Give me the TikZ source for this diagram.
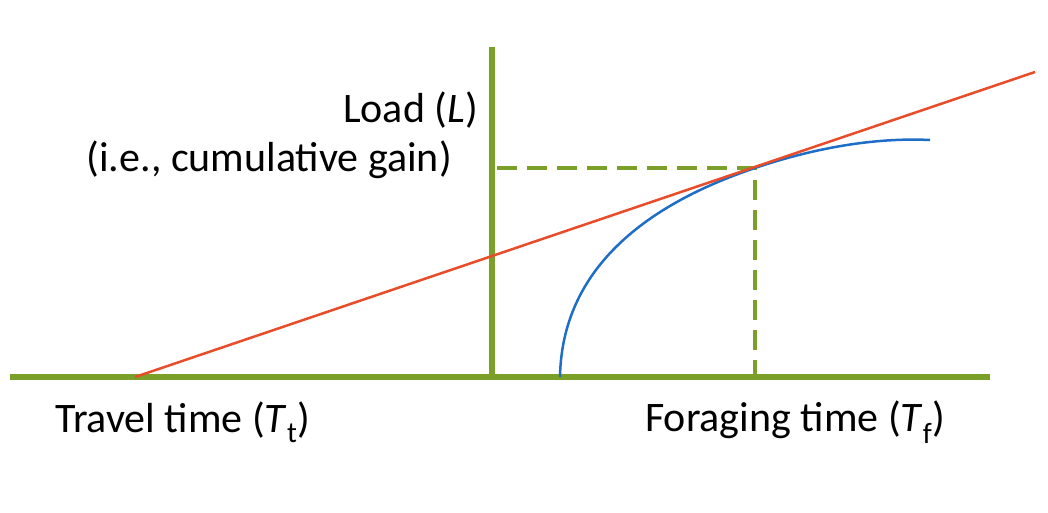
\documentclass[tikz,border=0pt]{standalone}
\usepackage{fontspec}
\setmainfont{Carlito}
\definecolor{axgreen}{RGB}{122,160,42}
\definecolor{tred}{RGB}{232,76,40}
\definecolor{cblue}{RGB}{30,110,200}
\begin{document}
\begin{tikzpicture}[x=1pt,y=-1pt,
  axis/.style={axgreen,line width=6pt},
  guide/.style={axgreen,line width=4.5pt,dash pattern=on 20pt off 10pt},
  lbl/.style={font=\fontsize{42}{48}\selectfont,inner sep=0pt}]
\useasboundingbox (0,0) rectangle (1048,512);
\coordinate (h0) at (10,377); \coordinate (h1) at (990,377);
\coordinate (v0) at (492,47); \coordinate (v1) at (492,380);
\coordinate (r0) at (135,377); \coordinate (r1) at (1035,72);
\coordinate (t) at (755,168); \coordinate (d0) at (497,168); \coordinate (d1) at (755,377);
\coordinate (b0) at (560,377); \coordinate (b1) at (930,140);
\draw[axis] (h0) -- (h1);
\draw[axis] (v0) -- (v1);
\draw[guide] (d0) -- (t) -- (d1);
\draw[cblue,line width=2.5pt] (b0) .. controls (562,260) and (660,200) .. (t)
  .. controls (830,142.6) and (890,138) .. (b1);
\draw[tred,line width=2.5pt] (r0) -- (r1);
\node[lbl,anchor=east] (load) at (478,110) {Load (\textit{L})};
\node[lbl,anchor=east] (gain) at (452,160) {(i.e., cumulative gain)};
\node[lbl,anchor=west] (tt) at (55,422) {Travel time (\textit{T}\textsubscript{t})};
\node[lbl,anchor=west] (tf) at (645,422) {Foraging time (\textit{T}\textsubscript{f})};
\end{tikzpicture}
\end{document}
